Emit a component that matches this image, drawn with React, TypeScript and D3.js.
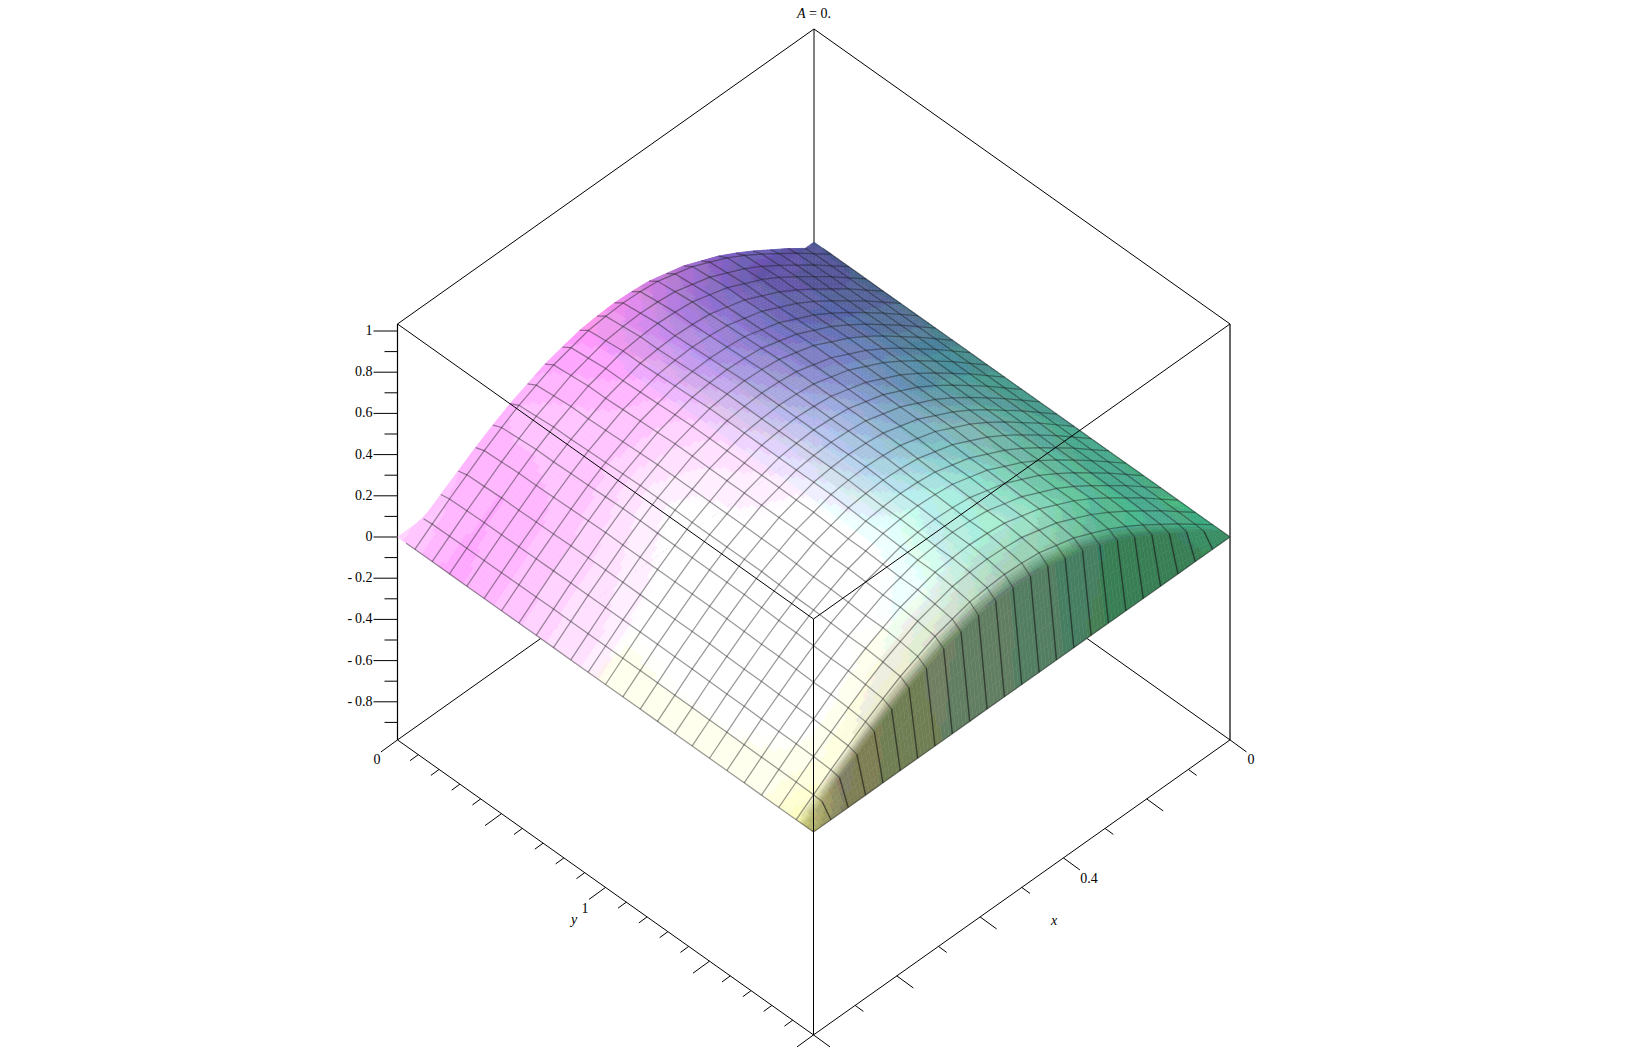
import React from "react";
import * as d3 from "d3";

const W = 1628, H = 1049;

// surface samples
const xNodes = [0, 0.0417, 0.0833, 0.125, 0.1667, 0.2083, 0.25, 0.2917, 0.3333, 0.375, 0.4167, 0.4583, 0.5, 0.5417, 0.5833, 0.625, 0.6667, 0.7083, 0.75, 0.7917, 0.8333, 0.875, 0.9167, 0.9583, 1];
const yNodes = [0, 0.0417, 0.0833, 0.1667, 0.25, 0.3333, 0.4167, 0.5, 0.5833, 0.6667, 0.75, 0.8333, 0.9167, 1, 1.0833, 1.1667, 1.25, 1.3333, 1.4167, 1.5, 1.5833, 1.6667, 1.75, 1.8333, 1.9167, 1.9583, 2];
const heightAlongX = [0, 0.13, 0.26, 0.38, 0.5, 0.61, 0.71, 0.79, 0.87, 0.92, 0.97, 0.99, 1, 0.99, 0.97, 0.92, 0.87, 0.79, 0.71, 0.61, 0.5, 0.38, 0.26, 0.13, 0];
const heightAlongY = [0, 0.45, 0.48, 0.49, 0.5, 0.5, 0.505, 0.51, 0.515, 0.52, 0.52, 0.52, 0.52, 0.52, 0.52, 0.52, 0.52, 0.515, 0.51, 0.51, 0.505, 0.5, 0.5, 0.49, 0.475, 0.44, 0];

// colour control table: rows along x, columns along y
const colourX = [0, 0.125, 0.25, 0.375, 0.5, 0.625, 0.75, 0.875, 0.9167, 1];
const colourY = [0, 0.25, 0.5, 0.75, 0.875, 1, 1.25, 1.5, 1.75, 1.9167, 1.9583, 2];
const colourRow0 = ["#4a4f90", "#4a5f90", "#4c7090", "#4b8a90", "#4a9390", "#4a9a8a", "#43a088", "#3ea583", "#3fb083", "#3cae80", "#38926a", "#38905f"];
const colourRow1 = ["#6e60b8", "#55509a", "#5a6aa0", "#4a8098", "#4b8d96", "#4e9a95", "#57a69a", "#4fae90", "#45ae88", "#45ae88", "#35805a", "#327a52"];
const colourRow2 = ["#8a62cc", "#6458a8", "#5a60a8", "#6a82b8", "#6488b0", "#5a8fa8", "#7bb0b0", "#70bfa5", "#62c49e", "#50b08c", "#387c5a", "#377a58"];
const colourRow3 = ["#c77bd8", "#8e70cc", "#7a70c4", "#8080c8", "#8590cc", "#8aa0d0", "#80b8c8", "#90dcd0", "#9fe5cc", "#88c8a8", "#4a805e", "#4a7f5c"];
const colourRow4 = ["#ff90f0", "#c88ce8", "#b090e8", "#b0a8e0", "#b4b4e8", "#b8c0ee", "#b0d0e8", "#c0f5f0", "#b0eedd", "#a8d0b8", "#5a7a64", "#5a7a62"];
const colourRow5 = ["#ffa0f8", "#ffa8fb", "#ffc0ff", "#ffd8ff", "#ffe0ff", "#ffe8ff", "#ffffff", "#ffffff", "#eefdfb", "#cfe0cc", "#687d5e", "#627d5c"];
const colourRow6 = ["#ffb8ff", "#ffc8ff", "#ffc8ff", "#fff0ff", "#ffffff", "#ffffff", "#ffffff", "#ffffff", "#fdfdf5", "#ecebd0", "#727a5a", "#6f7a5a"];
const colourRow7 = ["#ffc0ff", "#ffaeff", "#ffc0ff", "#ffe0ff", "#ffeeff", "#ffffff", "#ffffff", "#ffffff", "#ffffff", "#f6f6d8", "#7c7a5a", "#7a7a58"];
const colourRow8 = ["#ffc4ff", "#ffaeff", "#ffc0ff", "#ffe0ff", "#ffe8ff", "#fdfff8", "#ffffff", "#ffffff", "#fefff6", "#fafae0", "#858260", "#7d7c58"];
const colourRow9 = ["#ffd0ff", "#ffa8ff", "#ffc0ff", "#ffdcff", "#ffe4ff", "#f8fbec", "#fbfcec", "#fafcec", "#fafcec", "#f6f6c0", "#c8c878", "#a8a868"];
const colourRows = [colourRow0, colourRow1, colourRow2, colourRow3, colourRow4, colourRow5, colourRow6, colourRow7, colourRow8, colourRow9];

// axes
const zTicks = [-0.9, -0.8, -0.7, -0.6, -0.5, -0.4, -0.3, -0.2, -0.1, 0, 0.1, 0.2, 0.3, 0.4, 0.5, 0.6, 0.7, 0.8, 0.9, 1];
const zLabels = [-0.8, -0.6, -0.4, -0.2, 0, 0.2, 0.4, 0.6, 0.8, 1];
const xTicks = [0, 0.1, 0.2, 0.3, 0.4, 0.5, 0.6, 0.7, 0.8, 0.9, 1];
const xMajor = [0, 0.2, 0.4, 0.6, 0.8, 1];
const yTicks = [0, 0.1, 0.2, 0.3, 0.4, 0.5, 0.6, 0.7, 0.8, 0.9, 1, 1.1, 1.2, 1.3, 1.4, 1.5, 1.6, 1.7, 1.8, 1.9, 2];
const yMajor = [0, 0.5, 1, 1.5, 2];
const zBottom = -0.985, zTop = 1.034;

const sxFromX = d3.scaleLinear().domain([0, 1]).range([0, -416.5]);
const sxFromY = d3.scaleLinear().domain([0, 2]).range([0, 416]);
const syFromX = d3.scaleLinear().domain([0, 1]).range([0, 295]);
const syFromY = d3.scaleLinear().domain([0, 2]).range([0, 295]);
const syFromZ = d3.scaleLinear().domain([0, 1]).range([0, -206]);
const project = (x: number, y: number, z: number): [number, number] => [
  814 + sxFromX(x) + sxFromY(y),
  242 + syFromX(x) + syFromY(y) + syFromZ(z),
];
const line = d3.line();

const xColourScale = d3.scaleLinear().domain(colourX).range(colourX.map((_, i) => i));
const yColourScale = d3.scaleLinear().domain(colourY).range(colourY.map((_, i) => i));
const parsed = colourRows.map((r) => r.map((c) => d3.rgb(c)));
const colourAt = (x: number, y: number) => {
  const a = Math.min(xColourScale(x), colourX.length - 1.0001);
  const b = Math.min(yColourScale(y), colourY.length - 1.0001);
  const i = Math.floor(a), j = Math.floor(b), u = a - i, v = b - j;
  const mix = (k: "r" | "g" | "b") =>
    parsed[i][j][k] * (1 - u) * (1 - v) + parsed[i + 1][j][k] * u * (1 - v) + parsed[i][j + 1][k] * (1 - u) * v + parsed[i + 1][j + 1][k] * u * v;
  const q = (n: number) => (n > 248 ? 255 : Math.round(n / 14) * 14);
  return `rgb(${q(mix("r"))},${q(mix("g"))},${q(mix("b"))})`;
};

const heightAt = (i: number, j: number) => heightAlongX[i] * heightAlongY[j];

type Facet = { d: string; fill: string };
const facets: Facet[] = [];
const SUB = 5;
for (let i = 0; i < xNodes.length - 1; i++) {
  for (let j = 0; j < yNodes.length - 1; j++) {
    const z00 = heightAt(i, j), z10 = heightAt(i + 1, j), z01 = heightAt(i, j + 1), z11 = heightAt(i + 1, j + 1);
    const pt = (u: number, v: number) => {
      const x = xNodes[i] + (xNodes[i + 1] - xNodes[i]) * u;
      const y = yNodes[j] + (yNodes[j + 1] - yNodes[j]) * v;
      const z = z00 * (1 - u) * (1 - v) + z10 * u * (1 - v) + z01 * (1 - u) * v + z11 * u * v;
      return project(x, y, z);
    };
    for (let a = 0; a < SUB; a++) {
      for (let b = 0; b < SUB; b++) {
        const u0 = a / SUB, u1 = (a + 1) / SUB, v0 = b / SUB, v1 = (b + 1) / SUB;
        const d = line([pt(u0, v0), pt(u1, v0), pt(u1, v1), pt(u0, v1)])! + "Z";
        const fill = colourAt(
          xNodes[i] + (xNodes[i + 1] - xNodes[i]) * (u0 + u1) / 2,
          yNodes[j] + (yNodes[j + 1] - yNodes[j]) * (v0 + v1) / 2
        );
        facets.push({ d, fill });
      }
    }
  }
}

const gridPaths: string[] = [];
xNodes.forEach((x, i) => {
  gridPaths.push(line(yNodes.slice(1).map((y, j) => project(x, y, heightAt(i, j + 1))))!);
});
yNodes.forEach((y, j) => {
  if (j < 2 || j === 25) return;
  gridPaths.push(line(xNodes.map((x, i) => project(x, y, heightAt(i, j))))!);
});
// the steep strip along the near edge carries darker lines
const stripPaths: string[] = [];
xNodes.forEach((x, i) => {
  if (i === 0 || i === 24) return;
  stripPaths.push(line([project(x, yNodes[25], heightAt(i, 25)), project(x, yNodes[26], heightAt(i, 26))])!);
});

const seg = (a: [number, number], b: [number, number], key: string, w = 1) => (
  <line key={key} x1={a[0]} y1={a[1]} x2={b[0]} y2={b[1]} stroke="#000" strokeWidth={w} />
);

const B0 = project(0, 0, zBottom), L0 = project(1, 0, zBottom), R0 = project(0, 2, zBottom), F0 = project(1, 2, zBottom);
const B1 = project(0, 0, zTop), L1 = project(1, 0, zTop), R1 = project(0, 2, zTop), F1 = project(1, 2, zTop);

const font = "'Liberation Serif', 'Times New Roman', serif";

export default function App() {
  return (
    <svg width={W} height={H} viewBox={`0 0 ${W} ${H}`} style={{ position: "absolute", left: 0, top: 0, display: "block", background: "#fff" }}>
      {/* back of the box */}
      <g>
        {seg(B0, L0, "bl")}
        {seg(B0, R0, "br")}
        {seg(B0, B1, "bv")}
        {seg(L0, L1, "lv", 1.2)}
        {seg(R0, R1, "rv", 1.2)}
        {seg(B1, L1, "tl")}
        {seg(B1, R1, "tr")}
      </g>
      {/* surface */}
      <g>
        {facets.map((f, i) => (
          <path key={i} d={f.d} fill={f.fill} stroke={f.fill} strokeWidth={0.5} />
        ))}
      </g>
      <g fill="none" stroke="#1c1c1c" strokeOpacity={0.45} strokeWidth={1.25}>
        {gridPaths.map((d, i) => (
          <path key={i} d={d} />
        ))}
      </g>
      <g fill="none" stroke="#111" strokeOpacity={0.4} strokeWidth={1.1}>
        {stripPaths.map((d, i) => (
          <path key={i} d={d} />
        ))}
      </g>
      {/* front of the box */}
      <g>
        {seg(F0, F1, "fv")}
        {seg(L1, F1, "lf")}
        {seg(R1, F1, "rf")}
        {seg(L0, F0, "lfb")}
        {seg(R0, F0, "rfb")}
      </g>
      {/* z axis */}
      <g>
        {zTicks.map((z) => {
          const major = zLabels.includes(z);
          const p = project(1, 0, z);
          return <line key={z} x1={p[0]} y1={p[1]} x2={p[0] - (major ? 24 : 13)} y2={p[1]} stroke="#000" strokeWidth={1} />;
        })}
        {zLabels.map((z) => {
          const p = project(1, 0, z);
          return (
            <text key={z} x={p[0] - 25} y={p[1] + 4} textAnchor="end" fontFamily={font} fontSize={14} fill="#000">
              {z < 0 ? `-\u2009${Math.abs(z)}` : `${z}`}
            </text>
          );
        })}
      </g>
      {/* x axis */}
      <g>
        {xTicks.map((x) => {
          const p = project(x, 2, zBottom);
          const k = xMajor.includes(x) ? 1 : 0.5;
          return <line key={x} x1={p[0]} y1={p[1]} x2={p[0] + 16.5 * k} y2={p[1] + 12 * k} stroke="#000" strokeWidth={1} />;
        })}
      </g>
      {/* y axis */}
      <g>
        {yTicks.map((y) => {
          const p = project(1, y, zBottom);
          const k = yMajor.includes(y) ? 1 : 0.5;
          return <line key={y} x1={p[0]} y1={p[1]} x2={p[0] - 16.5 * k} y2={p[1] + 12 * k} stroke="#000" strokeWidth={1} />;
        })}
      </g>
      <g fontFamily={font} fontSize={14} fill="#000" textAnchor="middle">
        <text x={1251} y={764}>0</text>
        <text x={1089} y={882.5}>0.4</text>
        <text x={377} y={763.5}>0</text>
        <text x={585} y={913}>1</text>
        <text x={1054} y={925} fontStyle="italic">x</text>
        <text x={574} y={924} fontStyle="italic">y</text>
        <text x={814} y={17.5}>
          <tspan fontStyle="italic">A</tspan>
          <tspan> = 0.</tspan>
        </text>
      </g>
    </svg>
  );
}
